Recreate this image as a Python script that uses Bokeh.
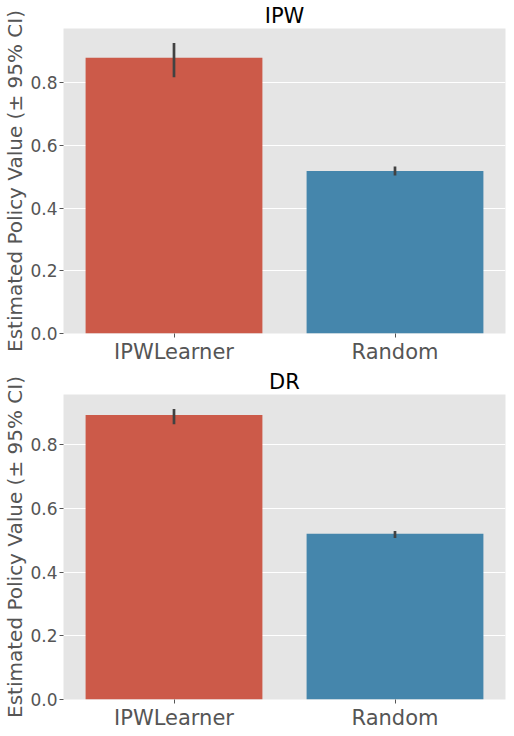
import bokeh.plotting as bkp
from bokeh.layouts import column
from bokeh.models import FactorRange, Range1d, FixedTicker, NumeralTickFormatter, ColumnDataSource
from bokeh.embed import file_html
from bokeh.resources import INLINE

# Values
estimators = ["IPWLearner", "Random"]
bar_colors = ["#CC5A49", "#4586AC"]

ipw_value = [0.879, 0.518]
ipw_lower = [0.817, 0.504]
ipw_upper = [0.926, 0.532]

dr_value = [0.894, 0.521]
dr_lower = [0.865, 0.508]
dr_upper = [0.913, 0.530]

y_ticks = [0.0, 0.2, 0.4, 0.6, 0.8]

FONT = "DejaVu Sans"


def make_panel(title, values, lower, upper):
    """ Return one seaborn-like barplot panel with CI whiskers. """
    p = bkp.figure(
        x_range=FactorRange(factors=estimators, range_padding=0),
        y_range=Range1d(0, max(upper) * 1.05),
        frame_width=442,
        frame_height=305,
        min_border_left=50,
        min_border_right=5,
        min_border_bottom=10,
        min_border_top=0,
        output_backend="svg",
        toolbar_location=None,
        tools="",
    )

    source = ColumnDataSource(dict(x=estimators, top=values, lo=lower, hi=upper, color=bar_colors))
    p.vbar(x='x', top='top', width=0.8, source=source, fill_color='color', line_color=None)
    p.segment(x0='x', y0='lo', x1='x', y1='hi', source=source, line_color="#424242", line_width=2.7)

    p.background_fill_color = "#E5E5E5"
    p.border_fill_color = "white"
    p.outline_line_color = None

    p.title.text = title
    p.title.align = "center"
    p.title.text_font = FONT
    p.title.text_font_size = "21px"
    p.title.text_font_style = "normal"
    p.title.text_color = "black"
    p.title.standoff = 2

    p.xgrid.grid_line_color = None
    p.ygrid.grid_line_color = "white"
    p.ygrid.grid_line_width = 1

    for ax in (p.xaxis, p.yaxis):
        ax.axis_line_color = None
        ax.major_tick_line_color = "#555555"
        ax.major_tick_out = 4
        ax.major_tick_in = 0
        ax.minor_tick_line_color = None
        ax.major_label_text_color = "#555555"
        ax.major_label_text_font = FONT
        ax.major_label_standoff = 2

    p.xaxis.major_label_text_font_size = "21px"

    p.yaxis.ticker = FixedTicker(ticks=y_ticks)
    p.yaxis.formatter = NumeralTickFormatter(format="0.0")
    p.yaxis.major_label_text_font_size = "17px"
    p.yaxis.axis_label = "Estimated Policy Value (\u00b1 95% CI)"
    p.yaxis.axis_label_text_font = FONT
    p.yaxis.axis_label_text_font_size = "20px"
    p.yaxis.axis_label_text_font_style = "normal"
    p.yaxis.axis_label_text_color = "#555555"
    p.yaxis.axis_label_standoff = 0

    return p


fig_ipw = make_panel("IPW", ipw_value, ipw_lower, ipw_upper)
fig_dr = make_panel("DR", dr_value, dr_lower, dr_upper)

layout = column([fig_ipw, fig_dr], spacing=0)

open("out.html", "w").write(file_html(layout, INLINE))
